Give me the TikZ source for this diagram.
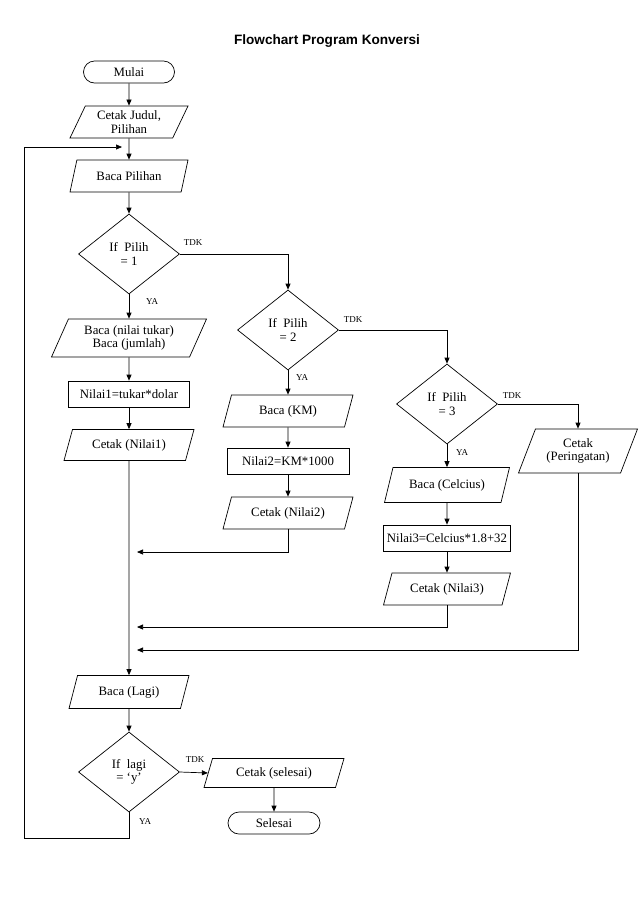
\documentclass[tikz,border=0pt]{standalone}
\usepackage{fontspec}
\setmainfont{Liberation Serif}
\newfontfamily\titlefont{Liberation Sans}
\usetikzlibrary{arrows.meta,shapes.geometric,shapes.misc,positioning}

\tikzset{
  base/.style={draw, line width=0.7pt, align=center, inner sep=1pt,
    font=\fontsize{12.8}{13.5}\selectfont},
  terminal/.style={base, rounded rectangle, minimum width=#1, minimum height=22},
  io/.style={base, trapezium, trapezium left angle=58, trapezium right angle=122,
    trapezium stretches body, minimum width=#1},
  proses/.style={base, rectangle, minimum width=#1, minimum height=26},
  cabang/.style={base, diamond, minimum width=101, minimum height=80, inner sep=0pt},
  lbl/.style={font=\fontsize{9}{10}\selectfont, inner sep=0pt},
  arr/.style={-{Triangle[length=6pt,width=5pt]}, line width=0.7pt},
}

\begin{document}
\begin{tikzpicture}[x=1pt, y=-1pt]

\fill[white] (0,0) rectangle (638,903);
\useasboundingbox (0,0) rectangle (638,903);

%% Title
\node[font=\titlefont\bfseries\fontsize{13.6}{15}\selectfont] (title) at (327,41)
  {Flowchart Program Konversi};

%% Start / end
\node[terminal=93] (mulai) at (129,72) {Mulai};
\node[terminal=94] (selesai) at (274,823) {Selesai};

%% Input / output blocks: name/x/y/width/height/text
\foreach \nm/\x/\y/\w/\h/\txt in {
  judul/129/122/118/32/{Cetak Judul,\\ Pilihan},
  pilihan/129/176/118/32/{Baca Pilihan},
  input1/129/338/155/38/{Baca (nilai tukar)\\ Baca (jumlah)},
  cetak1/129/445/130/31/{Cetak (Nilai1)},
  input2/288/411/130/32/{Baca (KM)},
  cetak2/288/513/130/32/{Cetak (Nilai2)},
  input3/447/485/125/35/{Baca (Celcius)},
  cetak3/447/589/127/32/{Cetak (Nilai3)},
  peringatan/578/451/119/44/{Cetak\\ (Peringatan)},
  lagi/129/692/120/33/{Baca (Lagi)},
  selesaicetak/274/773/140/29/{Cetak (selesai)}%
}{
  \node[io=\w, minimum height=\h] (\nm) at (\x,\y) {\txt};
}

%% Process blocks
\foreach \nm/\x/\y/\w/\txt in {
  hitung1/129/394/121/{Nilai1=tukar*dolar},
  hitung2/288/461/122/{Nilai2=KM*1000},
  hitung3/447/538/127/{Nilai3=Celcius*1.8+32}%
}{
  \node[proses=\w] (\nm) at (\x,\y) {\txt};
}

%% Decisions
\foreach \nm/\x/\y/\txt in {
  if1/129/254/{If\enspace Pilih\\ = 1},
  if2/288/330/{If\enspace Pilih\\ = 2},
  if3/447/404/{If\enspace Pilih\\ = 3},
  if4/129/772/{If\enspace lagi\\ = `y'}%
}{
  \node[cabang] (\nm) at (\x,\y) {\txt};
}

%% Branch labels
\node[lbl] (tdk1) at (193,243) {TDK};
\node[lbl] (tdk2) at (353,320) {TDK};
\node[lbl] (tdk3) at (512,396) {TDK};
\node[lbl] (tdk4) at (195,760) {TDK};
\node[lbl] (ya1) at (152,302) {YA};
\node[lbl] (ya2) at (302,378) {YA};
\node[lbl] (ya3) at (462,453) {YA};
\node[lbl] (ya4) at (145,822) {YA};

%% Free ends
\coordinate (m1) at (137,552);
\coordinate (m2) at (137,627);
\coordinate (m3) at (137,650);
\coordinate (kiri) at (24,838);
\coordinate (balik) at (122,147);

%% Main flow
\draw[arr] (mulai) -- (judul);
\draw[arr] (judul) -- (pilihan);
\draw[arr] (pilihan) -- (if1);
\draw[arr] (if1) -- (input1);
\draw[arr] (input1) -- (hitung1);
\draw[arr] (hitung1) -- (cetak1);
\draw[arr] (cetak1) -- (lagi);

%% Branch 2
\draw[arr] (if1.east) -| (if2.north);
\draw[arr] (if2) -- (input2);
\draw[arr] (input2) -- (hitung2);
\draw[arr] (hitung2) -- (cetak2);
\draw[arr] (cetak2.south) |- (m1);

%% Branch 3
\draw[arr] (if2.east) -| (if3.north);
\draw[arr] (if3) -- (input3);
\draw[arr] (input3) -- (hitung3);
\draw[arr] (hitung3) -- (cetak3);
\draw[arr] (cetak3.south) |- (m2);

%% Warning branch
\draw[arr] (if3.east) -| (peringatan.north);
\draw[arr] (peringatan.south) |- (m3);

%% Repeat or stop
\draw[arr] (lagi) -- (if4);
\draw[arr] (if4.east) -- (selesaicetak.west);
\draw[arr] (selesaicetak) -- (selesai);
\draw[arr] (if4.south) |- (kiri) |- (balik);

\end{tikzpicture}
\end{document}
